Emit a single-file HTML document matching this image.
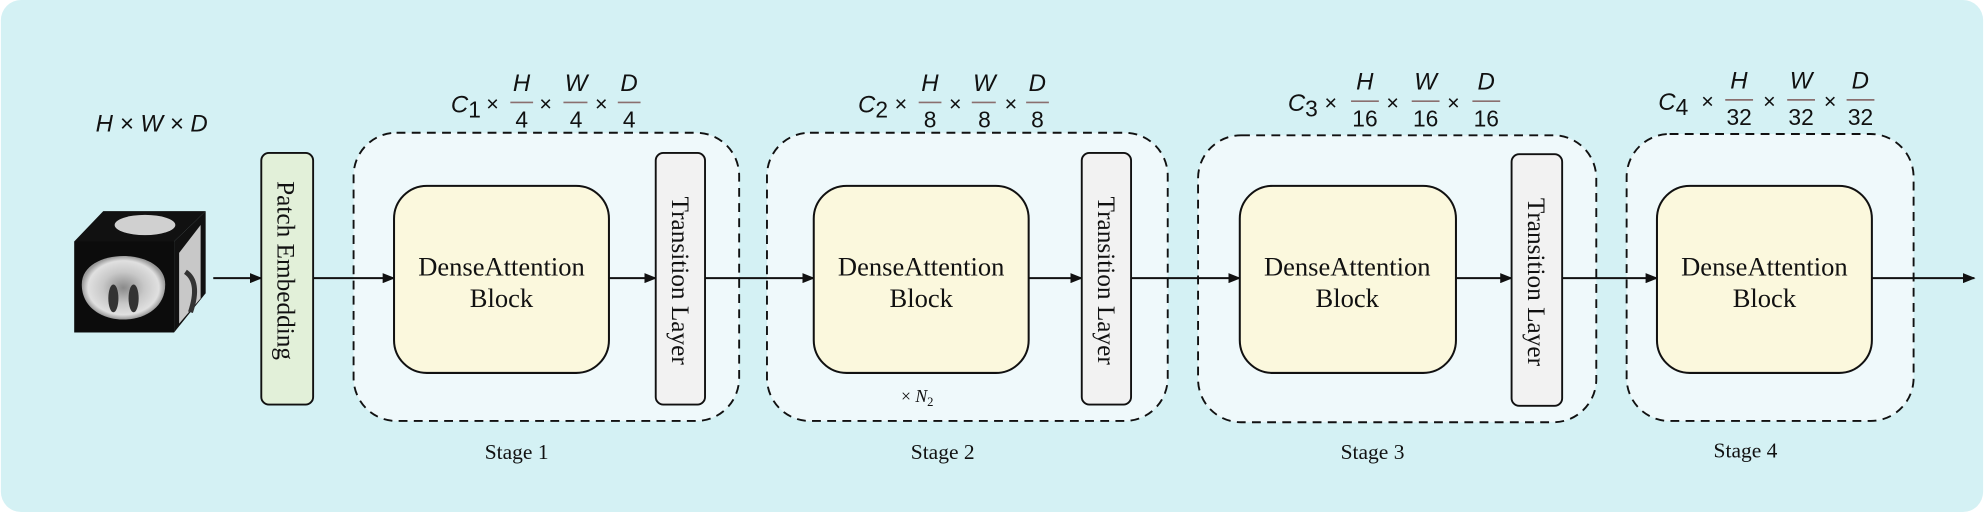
<!DOCTYPE html>
<html><head><meta charset="utf-8"><style>
html,body{margin:0;padding:0;background:#fff;}
svg{display:block;}
text{font-family:"Liberation Serif",serif;fill:#111;}
.m{font-style:italic;font-size:19px;font-family:"Liberation Sans",sans-serif;}
.d{font-size:18px;font-family:"Liberation Sans",sans-serif;}
.x{font-size:17px;font-family:"Liberation Sans",sans-serif;}
.b{font-size:21px;}
.s{font-size:17px;}
.t{font-size:20px;}
</style></head><body>
<svg width="1984" height="512" viewBox="0 0 1568 405" xmlns="http://www.w3.org/2000/svg">
<defs>
<marker id="ar" markerWidth="10" markerHeight="8" refX="9" refY="4" orient="auto" markerUnits="userSpaceOnUse"><path d="M0,0 L10,4 L0,8 z" fill="#111"/></marker>
<radialGradient id="br" cx="50%" cy="50%" r="50%"><stop offset="0" stop-color="#8a8a8a"/><stop offset="0.5" stop-color="#c8c8c8"/><stop offset="0.85" stop-color="#e0e0e0"/><stop offset="1" stop-color="#999"/></radialGradient>
</defs>
<rect x="0" y="0" width="1568" height="405" rx="16" fill="#d4f1f4"/>

<g fill="#eff9fb" stroke="#111" stroke-width="1.5" stroke-dasharray="7,5">
<rect x="279" y="105" width="305" height="228" rx="34"/>
<rect x="606" y="105" width="317" height="228" rx="34"/>
<rect x="947" y="107" width="315" height="227" rx="34"/>
<rect x="1286" y="106" width="227" height="227" rx="34"/>
</g>

<!-- cube -->
<polygon points="58,191 81,167 162,167 137,191" fill="#111"/>
<polygon points="137,191 162,167 162,232 137,263" fill="#111"/>
<rect x="58" y="191" width="79" height="72" fill="#0c0c0c"/>
<ellipse cx="114" cy="178" rx="24" ry="8" fill="#d0d0d0"/>
<path d="M64,225 C64,195 130,195 130,225 C130,262 64,262 64,225 z" fill="url(#br)"/>
<ellipse cx="89" cy="236" rx="4" ry="11" fill="#333"/>
<ellipse cx="105" cy="236" rx="4" ry="11" fill="#333"/>
<path d="M141,200 L158,178 L158,236 L141,256 z" fill="#c8c8c8"/>
<path d="M146,215 q12,8 4,32" stroke="#333" stroke-width="4" fill="none"/>

<text class="m" x="75" y="104" font-size="21">H × W × D</text>

<g>
<text class="m" x="356" y="89">C<tspan class="d" dy="4" font-style="normal" font-size="13">1</tspan></text>
<text class="x" x="384" y="88">×</text><text class="x" x="426" y="88">×</text><text class="x" x="470" y="88">×</text>
<text class="m" x="405" y="72">H</text><text class="d" x="407" y="101">4</text>
<text class="m" x="446" y="72">W</text><text class="d" x="450" y="101">4</text>
<text class="m" x="490" y="72">D</text><text class="d" x="492" y="101">4</text>
</g>
<g>
<text class="m" x="678" y="89">C<tspan class="d" dy="4" font-style="normal" font-size="13">2</tspan></text>
<text class="x" x="707" y="88">×</text><text class="x" x="750" y="88">×</text><text class="x" x="794" y="88">×</text>
<text class="m" x="728" y="72">H</text><text class="d" x="730" y="101">8</text>
<text class="m" x="769" y="72">W</text><text class="d" x="773" y="101">8</text>
<text class="m" x="813" y="72">D</text><text class="d" x="815" y="101">8</text>
</g>
<g>
<text class="m" x="1018" y="88">C<tspan class="d" dy="4" font-style="normal" font-size="13">3</tspan></text>
<text class="x" x="1047" y="87">×</text><text class="x" x="1096" y="87">×</text><text class="x" x="1144" y="87">×</text>
<text class="m" x="1072" y="71">H</text><text class="d" x="1069" y="100">16</text>
<text class="m" x="1118" y="71">W</text><text class="d" x="1117" y="100">16</text>
<text class="m" x="1168" y="71">D</text><text class="d" x="1165" y="100">16</text>
</g>
<g>
<text class="m" x="1311" y="87">C<tspan class="d" dy="4" font-style="normal" font-size="13">4</tspan></text>
<text class="x" x="1345" y="86">×</text><text class="x" x="1394" y="86">×</text><text class="x" x="1442" y="86">×</text>
<text class="m" x="1368" y="70">H</text><text class="d" x="1365" y="99">32</text>
<text class="m" x="1415" y="70">W</text><text class="d" x="1414" y="99">32</text>
<text class="m" x="1464" y="70">D</text><text class="d" x="1461" y="99">32</text>
</g>
<g stroke="#8a6f6f" stroke-width="1.3">
<line x1="403" y1="81" x2="421" y2="81"/><line x1="445" y1="81" x2="464" y2="81"/><line x1="488" y1="81" x2="506" y2="81"/>
<line x1="726" y1="81" x2="744" y2="81"/><line x1="768" y1="81" x2="787" y2="81"/><line x1="811" y1="81" x2="829" y2="81"/>
<line x1="1068" y1="80" x2="1090" y2="80"/><line x1="1116" y1="80" x2="1138" y2="80"/><line x1="1164" y1="80" x2="1186" y2="80"/>
<line x1="1364" y1="79" x2="1386" y2="79"/><line x1="1413" y1="79" x2="1435" y2="79"/><line x1="1460" y1="79" x2="1482" y2="79"/>
</g>

<g stroke="#111" stroke-width="1.6" marker-end="url(#ar)">
<line x1="168" y1="220" x2="206" y2="220"/>
<line x1="247" y1="220" x2="311" y2="220"/>
<line x1="481" y1="220" x2="518" y2="220"/>
<line x1="557" y1="220" x2="643" y2="220"/>
<line x1="813" y1="220" x2="855" y2="220"/>
<line x1="894" y1="220" x2="980" y2="220"/>
<line x1="1151" y1="220" x2="1195" y2="220"/>
<line x1="1235" y1="220" x2="1310" y2="220"/>
<line x1="1480" y1="220" x2="1561" y2="220"/>
</g>

<rect x="206" y="121" width="41" height="199" rx="6" fill="#e2f0d9" stroke="#111" stroke-width="1.5"/>
<text class="t" transform="translate(219,214) rotate(90)" text-anchor="middle" font-size="22">Patch Embedding</text>

<g fill="#fbf8dd" stroke="#111" stroke-width="1.6">
<rect x="311" y="147" width="170" height="148" rx="26"/>
<rect x="643" y="147" width="170" height="148" rx="26"/>
<rect x="980" y="147" width="171" height="148" rx="26"/>
<rect x="1310" y="147" width="170" height="148" rx="26"/>
</g>
<g text-anchor="middle">
<text class="b" x="396" y="218">DenseAttention</text><text class="b" x="396" y="243">Block</text>
<text class="b" x="728" y="218">DenseAttention</text><text class="b" x="728" y="243">Block</text>
<text class="b" x="1065" y="218">DenseAttention</text><text class="b" x="1065" y="243">Block</text>
<text class="b" x="1395" y="218">DenseAttention</text><text class="b" x="1395" y="243">Block</text>
</g>
<text x="712" y="318" font-size="14" font-family="Liberation Sans,sans-serif">× <tspan font-style="italic">N</tspan><tspan font-size="10" dy="3">2</tspan></text>

<g fill="#f2f2f2" stroke="#111" stroke-width="1.5">
<rect x="518" y="121" width="39" height="199" rx="6"/>
<rect x="855" y="121" width="39" height="199" rx="6"/>
<rect x="1195" y="122" width="40" height="199" rx="6"/>
</g>
<text class="t" transform="translate(531,222) rotate(90)" text-anchor="middle">Transition  Layer</text>
<text class="t" transform="translate(868,222) rotate(90)" text-anchor="middle">Transition  Layer</text>
<text class="t" transform="translate(1208,223) rotate(90)" text-anchor="middle">Transition Layer</text>

<g text-anchor="middle">
<text class="s" x="408" y="363">Stage 1</text>
<text class="s" x="745" y="363">Stage 2</text>
<text class="s" x="1085" y="363">Stage 3</text>
<text class="s" x="1380" y="362">Stage 4</text>
</g>
</svg>
</body></html>
